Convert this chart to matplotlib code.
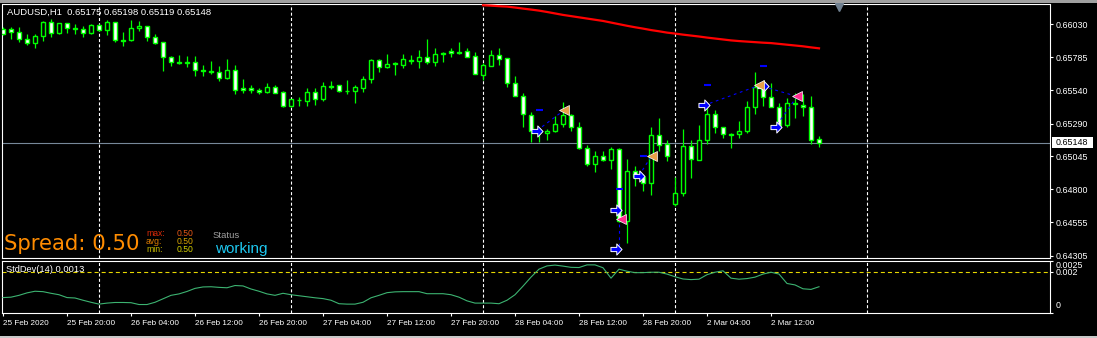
import matplotlib
matplotlib.use('Agg')
import matplotlib.pyplot as plt
import numpy as np
from matplotlib.path import Path
from matplotlib.patches import Rectangle
from matplotlib.transforms import blended_transform_factory, offset_copy, IdentityTransform

plt.rcParams['font.family'] = ['Liberation Sans', 'DejaVu Sans']
plt.rcParams['lines.scale_dashes'] = False

# ---------------- data ----------------
symbol = "AUDUSD"
timeframe = "H1"

opens = [0.65998, 0.65995, 0.65970, 0.65918, 0.65888, 0.65940, 0.66045, 0.65963, 0.66037, 0.65998,
         0.65993, 0.65963, 0.66023, 0.65985, 0.66045, 0.65911, 0.65911, 0.66000, 0.66015, 0.65933,
         0.65896, 0.65783, 0.65746, 0.65743, 0.65746, 0.65686, 0.65681, 0.65671, 0.65627, 0.65686,
         0.65552, 0.65552, 0.65537, 0.65522, 0.65559, 0.65522, 0.65418, 0.65465, 0.65455, 0.65522,
         0.65470, 0.65567, 0.65574, 0.65530, 0.65530, 0.65552, 0.65619, 0.65761, 0.65709, 0.65739,
         0.65724, 0.65761, 0.65754, 0.65783, 0.65746, 0.65813, 0.65828, 0.65821, 0.65828, 0.65791,
         0.65649, 0.65716, 0.65798, 0.65776, 0.65589, 0.65492, 0.65356, 0.65231, 0.65221, 0.65233,
         0.65288, 0.65356, 0.65263, 0.65109, 0.64990, 0.65047, 0.65020, 0.65097, 0.64561, 0.64940,
         0.64895, 0.64848, 0.65206, 0.65139, 0.64691, 0.64773, 0.65126, 0.65022, 0.65164, 0.65358,
         0.65261, 0.65209, 0.65209, 0.65238, 0.65410, 0.65559, 0.65485, 0.65410, 0.65283, 0.65440,
         0.65432, 0.65410, 0.65175]

highs = [0.66008, 0.66010, 0.66008, 0.65955, 0.65955, 0.66055, 0.66070, 0.66040, 0.66040, 0.66030,
         0.66015, 0.66030, 0.66030, 0.66060, 0.66048, 0.65970, 0.66060, 0.66052, 0.66018, 0.65955,
         0.65898, 0.65791, 0.65798, 0.65791, 0.65791, 0.65724, 0.65754, 0.65716, 0.65769, 0.65724,
         0.65619, 0.65574, 0.65552, 0.65589, 0.65574, 0.65530, 0.65472, 0.65485, 0.65552, 0.65552,
         0.65597, 0.65604, 0.65576, 0.65612, 0.65574, 0.65642, 0.65769, 0.65769, 0.65806, 0.65746,
         0.65806, 0.65798, 0.65836, 0.65918, 0.65851, 0.65821, 0.65851, 0.65896, 0.65851, 0.65821,
         0.65739, 0.65836, 0.65851, 0.65776, 0.65642, 0.65515, 0.65375, 0.65253, 0.65253, 0.65350,
         0.65450, 0.65365, 0.65298, 0.65132, 0.65082, 0.65082, 0.65114, 0.65106, 0.65027, 0.64977,
         0.64917, 0.65261, 0.65330, 0.65164, 0.64890, 0.65253, 0.65164, 0.65283, 0.65425, 0.65388,
         0.65261, 0.65216, 0.65306, 0.65455, 0.65671, 0.65589, 0.65589, 0.65447, 0.65477, 0.65515,
         0.65507, 0.65492, 0.65198]

lows = [0.65948, 0.65918, 0.65896, 0.65873, 0.65851, 0.65905, 0.65935, 0.65960, 0.65965, 0.65955,
        0.65933, 0.65960, 0.65978, 0.65948, 0.65898, 0.65866, 0.65903, 0.65978, 0.65903, 0.65881,
        0.65679, 0.65716, 0.65731, 0.65709, 0.65642, 0.65642, 0.65656, 0.65604, 0.65624, 0.65507,
        0.65515, 0.65515, 0.65507, 0.65515, 0.65515, 0.65410, 0.65415, 0.65418, 0.65418, 0.65432,
        0.65455, 0.65544, 0.65522, 0.65507, 0.65447, 0.65522, 0.65589, 0.65671, 0.65701, 0.65649,
        0.65701, 0.65731, 0.65701, 0.65731, 0.65716, 0.65746, 0.65783, 0.65806, 0.65783, 0.65656,
        0.65612, 0.65716, 0.65724, 0.65559, 0.65492, 0.65268, 0.65151, 0.65151, 0.65164, 0.65226,
        0.65263, 0.65238, 0.65102, 0.64972, 0.64927, 0.65014, 0.64952, 0.64554, 0.64397, 0.64828,
        0.64790, 0.64760, 0.65089, 0.65014, 0.64678, 0.64753, 0.64887, 0.65022, 0.65141, 0.65216,
        0.65186, 0.65111, 0.65186, 0.65223, 0.65365, 0.65418, 0.65410, 0.65268, 0.65268, 0.65335,
        0.65350, 0.65134, 0.65119]

closes = [0.65961, 0.65970, 0.65918, 0.65888, 0.65940, 0.66045, 0.65963, 0.66037, 0.66000, 0.65995,
          0.65963, 0.66023, 0.65985, 0.66045, 0.65911, 0.65908, 0.66000, 0.66015, 0.65933, 0.65888,
          0.65783, 0.65746, 0.65743, 0.65746, 0.65686, 0.65681, 0.65676, 0.65627, 0.65686, 0.65537,
          0.65537, 0.65537, 0.65522, 0.65559, 0.65518, 0.65418, 0.65470, 0.65462, 0.65522, 0.65470,
          0.65567, 0.65565, 0.65530, 0.65532, 0.65559, 0.65619, 0.65761, 0.65709, 0.65731, 0.65736,
          0.65769, 0.65758, 0.65783, 0.65746, 0.65806, 0.65810, 0.65813, 0.65818, 0.65783, 0.65656,
          0.65724, 0.65798, 0.65769, 0.65589, 0.65492, 0.65358, 0.65231, 0.65226, 0.65238, 0.65288,
          0.65356, 0.65263, 0.65109, 0.64990, 0.65052, 0.65020, 0.65097, 0.64566, 0.64935, 0.64895,
          0.64848, 0.65206, 0.65132, 0.65047, 0.64773, 0.65126, 0.65029, 0.65164, 0.65358, 0.65261,
          0.65209, 0.65206, 0.65238, 0.65410, 0.65559, 0.65485, 0.65410, 0.65283, 0.65440, 0.65437,
          0.65410, 0.65171, 0.65148]

# moving average (red), starting at bar 60 (earlier values above the visible range)
ma_start = 60
ma_vals = [0.66172, 0.66169, 0.66165, 0.66162, 0.66155, 0.66147, 0.66140, 0.66132,
           0.66122, 0.66111, 0.66100, 0.66091, 0.66082, 0.66073, 0.66064, 0.66055, 0.66043, 0.66031,
           0.66019, 0.66008, 0.65998, 0.65987, 0.65978, 0.65968, 0.65961, 0.65953, 0.65946, 0.65939,
           0.65931, 0.65924, 0.65917, 0.65910, 0.65905, 0.65901, 0.65897, 0.65893, 0.65890, 0.65884,
           0.65878, 0.65872, 0.65866, 0.65858, 0.65851]

# StdDev(14) sub-window
std_period = 14
std_vals = [0.00073, 0.00075, 0.00084, 0.00096, 0.00104, 0.00102, 0.00094, 0.00087, 0.00073, 0.00071,
            0.00060, 0.00050, 0.00041, 0.00046, 0.00049, 0.00049, 0.00048, 0.00039, 0.00039, 0.00050,
            0.00067, 0.00084, 0.00091, 0.00103, 0.00118, 0.00125, 0.00126, 0.00123, 0.00121, 0.00132,
            0.00130, 0.00115, 0.00104, 0.00091, 0.00084, 0.00094, 0.00087, 0.00082, 0.00077, 0.00072,
            0.00068, 0.00060, 0.00043, 0.00041, 0.00041, 0.00050, 0.00072, 0.00084, 0.00097, 0.00101,
            0.00102, 0.00102, 0.00102, 0.00092, 0.00092, 0.00092, 0.00087, 0.00075, 0.00057, 0.00046,
            0.00046, 0.00046, 0.00043, 0.00060, 0.00087, 0.00129, 0.00173, 0.00212, 0.00228, 0.00232,
            0.00227, 0.00221, 0.00220, 0.00233, 0.00233, 0.00219, 0.00168, 0.00212, 0.00202, 0.00195,
            0.00195, 0.00197, 0.00197, 0.00188, 0.00175, 0.00164, 0.00161, 0.00163, 0.00185, 0.00197,
            0.00204, 0.00168, 0.00163, 0.00166, 0.00173, 0.00188, 0.00197, 0.00188, 0.00142, 0.00135,
            0.00116, 0.00113, 0.00126]
std_level = 0.002

# trade signals
arrow_bars = [66.75, 76.6, 76.6, 79.5, 87.6, 95.0, 96.6]
arrow_prices = [0.65238, 0.64648, 0.64357, 0.64902, 0.65425, 0.65567, 0.65268]
orange_bars = [70.1, 81.1, 94.5]
orange_prices = [0.65388, 0.65052, 0.65574]
pink_bars = [77.25, 99.25]
pink_prices = [0.64581, 0.65492]
level_bars = [67.06, 77.06, 80.06, 88.06, 95.06]
level_prices = [0.65388, 0.64805, 0.65052, 0.65574, 0.65716]
trade_from_bars = [66.75, 77.0, 79.5, 87.6, 95.0, 99.25]
trade_from_prices = [0.65238, 0.64380, 0.64902, 0.65425, 0.65567, 0.65492]
trade_to_bars = [70.1, 77.0, 81.1, 94.5, 99.25, 96.6]
trade_to_prices = [0.65388, 0.64618, 0.65052, 0.65574, 0.65492, 0.65268]

# axes
price_ticks = [0.66030, 0.65785, 0.65540, 0.65290, 0.65045, 0.64800, 0.64555, 0.64305]
price_tick_labels = ["0.66030", "0.65785", "0.65540", "0.65290", "0.65045", "0.64800", "0.64555", "0.64305"]
sub_ticks = [0.0025, 0.002, 0.0]
sub_tick_labels = ["0.0025", "0.002", "0"]
time_tick_bars = [0, 8, 16, 24, 32, 40, 48, 56, 64, 72, 80, 88, 96]
time_tick_labels = ["25 Feb 2020", "25 Feb 20:00", "26 Feb 04:00", "26 Feb 12:00", "26 Feb 20:00",
                    "27 Feb 04:00", "27 Feb 12:00", "27 Feb 20:00", "28 Feb 04:00", "28 Feb 12:00",
                    "28 Feb 20:00", "2 Mar 04:00", "2 Mar 12:00"]
grid_bars = [12, 36, 60, 84, 108]
shift_bar = 104.5

spread_value = 0.50
spread_max, spread_avg, spread_min = 0.50, 0.50, 0.50
status_text = "working"

# ---------------- figure ----------------
W, H = 1097, 338
fig = plt.figure(figsize=(W / 100, H / 100), dpi=100, facecolor='black')


def fbox(l, t, r, b):
    return [l / W, 1 - b / H, (r - l) / W, (b - t) / H]


ax = fig.add_axes(fbox(2, 4.5, 1050, 258.3), facecolor='black')
axs = fig.add_axes(fbox(2, 261, 1050, 312.5), facecolor='black')

for a in (ax, axs):
    a.set_xlim(-0.125, 130.875)
    for s in a.spines.values():
        s.set_color('white')
        s.set_linewidth(0.8)
ax.set_ylim(0.642857, 0.661776)
axs.set_ylim(0.00005, 0.00252)

n = len(closes)
idx = np.arange(n)
O = np.array(opens); Hh = np.array(highs); L = np.array(lows); C = np.array(closes)

# grid
for g in grid_bars:
    for a in (ax, axs):
        a.axvline(g, color='white', lw=0.8, linestyle=(0, (2.2, 1.6)), zorder=1)

# bid line
bid = closes[-1]
ax.axhline(bid, color='#778899', lw=0.8, zorder=2)

# candles
ax.vlines(idx, L, Hh, color='#00ff00', lw=0.9, zorder=3)
bottoms = np.minimum(O, C)
heights = np.maximum(np.abs(C - O), 0.00004)
fills = ['white' if c < o else 'black' for o, c in zip(opens, closes)]
ax.bar(idx, heights, bottom=bottoms, width=0.6, color=fills, edgecolor='#00ff00',
       linewidth=1.0, zorder=4)

# moving average
ax.plot(np.arange(ma_start, ma_start + len(ma_vals)), ma_vals, color='#ff0000', lw=1.6, zorder=5)

# trade lines and signals
for b0, p0, b1, p1 in zip(trade_from_bars, trade_from_prices, trade_to_bars, trade_to_prices):
    ax.plot([b0, b1], [p0, p1], color='#0000ff', lw=0.8, linestyle=(0, (2.0, 2.6)), zorder=6)
ax.hlines(level_prices, np.array(level_bars) - 0.45, np.array(level_bars) + 0.45,
          color='#0000ff', lw=1.5, zorder=6)

arrow_path = Path([(-1, -0.38), (0.05, -0.38), (0.05, -1.0), (1, 0), (0.05, 1.0), (0.05, 0.38),
                   (-1, 0.38), (-1, -0.38)],
                  [Path.MOVETO] + [Path.LINETO] * 6 + [Path.CLOSEPOLY])
ax.plot(arrow_bars, arrow_prices, ls='none', marker=arrow_path, ms=8, mfc='#0000ff',
        mec='white', mew=0.7, zorder=7)
ax.plot(orange_bars, orange_prices, ls='none', marker='<', ms=7, mfc='#e8a048',
        mec='white', mew=0.5, zorder=7)
ax.plot(pink_bars, pink_prices, ls='none', marker='<', ms=7, mfc='#ff2d8f',
        mec='white', mew=0.5, zorder=7)

# chart shift marker
ax.plot([shift_bar], [0.66160], ls='none', marker='v', ms=6, color='#708090', clip_on=False, zorder=8)

# price axis
ax.yaxis.tick_right()
ax.set_yticks(price_ticks)
ax.set_yticklabels(price_tick_labels)
ax.tick_params(axis='y', colors='white', length=2.2, width=0.8, pad=2.2, labelsize=6.4,
               direction='out')
ax.tick_params(axis='x', bottom=False, labelbottom=False)

fig.canvas.draw()
bid_y = ax.transData.transform((0, bid))[1]
fig.add_artist(Rectangle((1052, bid_y - 5.5), 41, 11, transform=IdentityTransform(),
                         facecolor='white', edgecolor='none'))
fig.text(1055.5, bid_y, f"{bid:.5f}", transform=IdentityTransform(), ha='left', va='center',
         fontsize=6.4, color='black')

# sub-window
axs.plot(idx, std_vals, color='#3cb371', lw=0.8, zorder=3)
axs.axhline(std_level, color='#e6d700', lw=0.8, linestyle=(0, (2.9, 2.2)), zorder=2)
axs.yaxis.tick_right()
axs.set_yticks(sub_ticks)
axs.set_yticklabels([])
axs.tick_params(axis='y', colors='white', length=2.2, width=0.8, direction='out')
axs.set_xticks(time_tick_bars)
axs.set_xticklabels([])
axs.tick_params(axis='x', colors='white', length=1.8, width=0.8, direction='out')

trans_sub = blended_transform_factory(axs.transAxes, axs.transData)
smax = max(sub_ticks)
for v, lab in zip(sub_ticks, sub_tick_labels):
    if v == smax:
        va, dy = 'top', 0
    elif v == 0:
        va, dy = 'bottom', 3
    else:
        va, dy = 'center', -1
    fig.text(1 + 5.5 / 1048, v, lab, transform=offset_copy(trans_sub, fig, y=dy, units='dots'),
             ha='left', va=va, fontsize=6.4, color='white')

trans_time = blended_transform_factory(axs.transData, axs.transAxes)
for b, lab in zip(time_tick_bars, time_tick_labels):
    axs.text(b - 0.05, -0.217, lab, transform=trans_time, ha='left', va='center',
             fontsize=5.9, color='white', clip_on=False)

# texts
fig.text(7 / W, 1 - 12 / H,
         f"{symbol},{timeframe}  {opens[-1]:.5f} {highs[-1]:.5f} {lows[-1]:.5f} {closes[-1]:.5f}",
         ha='left', va='center', fontsize=6.8, color='white')
fig.text(6 / W, 1 - 269 / H, f"StdDev({std_period}) {std_vals[-1]:.4f}",
         ha='left', va='center', fontsize=6.7, color='white')

fig.text(3.5 / W, 1 - 249.5 / H, f"Spread: {spread_value:.2f}", family='DejaVu Sans',
         fontsize=15.3, color='#ff8c00', ha='left', va='baseline')
rows = [("max:", spread_max, '#dc2a08', '#e85818', 236),
        ("avg:", spread_avg, '#e07c00', '#d8a400', 244),
        ("min:", spread_min, '#c8bc00', '#d4d000', 252)]
for lab, val, c1, c2, yb in rows:
    fig.text(146 / W, 1 - yb / H, lab, fontsize=6.2, color=c1, ha='left', va='baseline')
    fig.text(177 / W, 1 - yb / H, f"{val:.2f}", fontsize=6.2, color=c2, ha='left', va='baseline')
fig.text(213 / W, 1 - 237.5 / H, "Status", fontsize=6.8, color='#a0a0a0', ha='left', va='baseline')
fig.text(215 / W, 1 - 252.5 / H, status_text, fontsize=11, color='#1ec8f0', ha='left', va='baseline')

# window chrome
fig.add_artist(Rectangle((0, 1 - 2.7 / H), 1, 2.7 / H, transform=fig.transFigure,
                         facecolor='#a0a0a0', edgecolor='none'))
fig.add_artist(Rectangle((0, 0), 1, 2.5 / H, transform=fig.transFigure,
                         facecolor='#c8c8c8', edgecolor='none'))

fig.savefig('out.png', dpi=100, facecolor='black')
